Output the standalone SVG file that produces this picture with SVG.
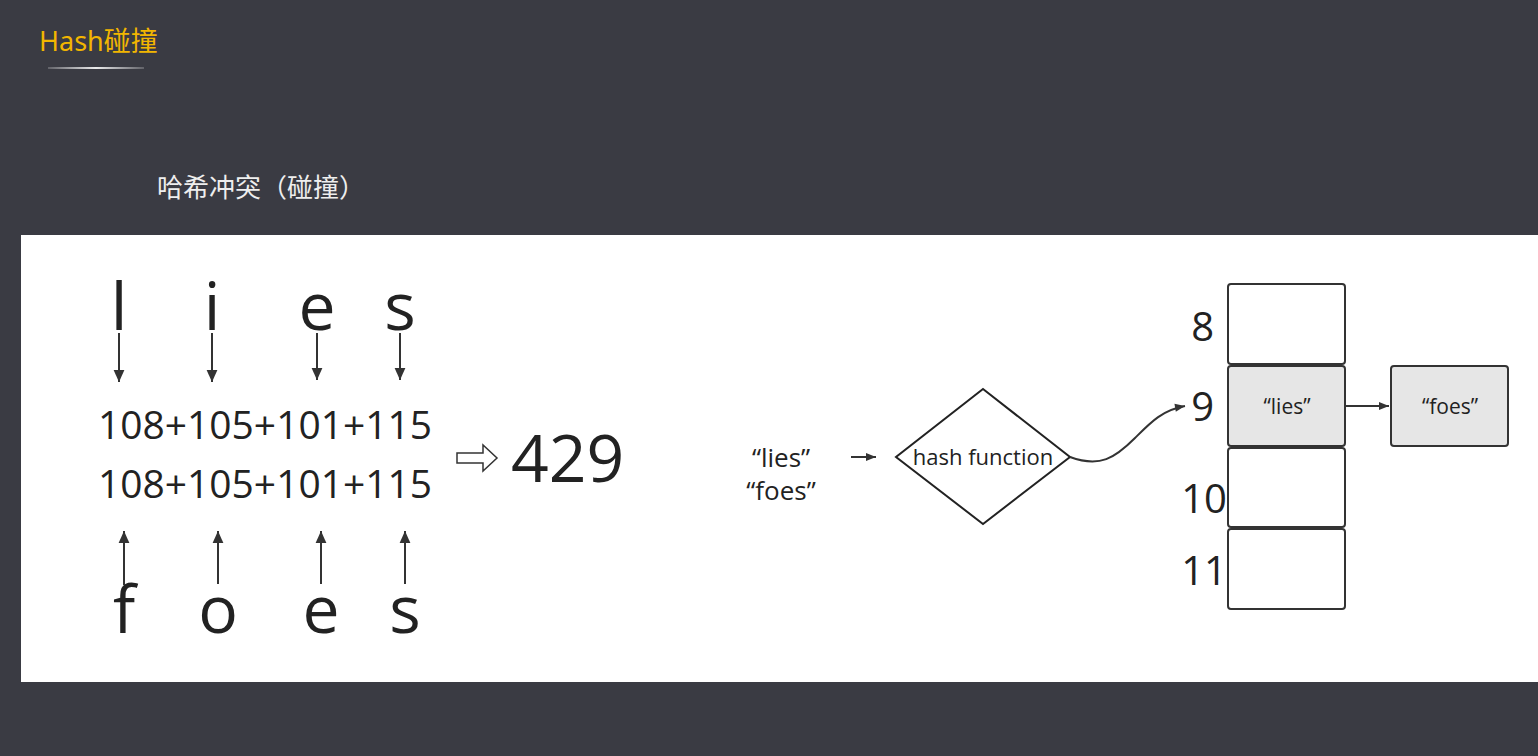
<svg xmlns="http://www.w3.org/2000/svg" width="1538" height="756" viewBox="0 0 1538 756">
<defs>
<linearGradient id="ul" x1="0" x2="1" y1="0" y2="0">
<stop offset="0" stop-color="#ffffff" stop-opacity="0.2"/>
<stop offset="0.5" stop-color="#ffffff" stop-opacity="0.9"/>
<stop offset="1" stop-color="#ffffff" stop-opacity="0.2"/>
</linearGradient>
<marker id="ah" viewBox="0 0 10 10" refX="10" refY="5" markerWidth="14" markerHeight="12" markerUnits="userSpaceOnUse" orient="auto">
<path d="M0,0.5 L10,5 L0,9.5 Z" fill="#333"/>
</marker>
<marker id="ahs" viewBox="0 0 10 10" refX="10" refY="5" markerWidth="13" markerHeight="10" markerUnits="userSpaceOnUse" orient="auto">
<path d="M0,1 L10,5 L0,9 Z" fill="#333"/>
</marker>
<style>
.t{font-family:"Open Sans","Noto Sans","Noto Sans CJK SC",sans-serif;fill:#222}
.big{font-size:66px}
.num{font-size:38px}
.ln{stroke:#333;stroke-width:2;fill:none}
.box{stroke:#333;stroke-width:2;fill:#fff}
.fill{fill:#e6e6e6}
.lbl{font-size:40px;fill:#222}
</style>
</defs>
<rect x="0" y="0" width="1538" height="756" fill="#3a3b43"/>
<rect x="21" y="235" width="1517" height="447" fill="#ffffff"/>
<g id="title">
<text x="39" y="51" font-family="'Noto Sans','Noto Sans CJK SC',sans-serif" font-size="27" fill="#f2b600">Hash碰撞</text>
<rect x="48" y="67" width="96" height="2" fill="url(#ul)"/>
</g>
<g id="subtitle">
<text x="157" y="197" font-family="'Noto Sans CJK SC',sans-serif" font-size="26" fill="#eeeeee">哈希冲突（碰撞）</text>
</g>
<g id="lies-letters">
<text class="t big" x="119" y="330" text-anchor="middle">l</text>
<text class="t big" x="212" y="330" text-anchor="middle">i</text>
<text class="t big" x="317" y="330" text-anchor="middle">e</text>
<text class="t big" x="400" y="330" text-anchor="middle">s</text>
</g>
<g id="sums">
<text class="t num" x="265" y="439" text-anchor="middle" textLength="334" lengthAdjust="spacingAndGlyphs">108+105+101+115</text>
<text class="t num" x="265" y="498" text-anchor="middle" textLength="334" lengthAdjust="spacingAndGlyphs">108+105+101+115</text>
</g>
<g id="foes-letters">
<text class="t big" x="124" y="633" text-anchor="middle">f</text>
<text class="t big" x="218" y="633" text-anchor="middle">o</text>
<text class="t big" x="321" y="633" text-anchor="middle">e</text>
<text class="t big" x="405" y="633" text-anchor="middle">s</text>
</g>
<g id="result">
<polygon points="457,453 483,453 483,445 497,458 483,471 483,463 457,463" fill="#fff" stroke="#333" stroke-width="1.5"/>
<text class="t" x="511" y="482" font-size="66" fill="#000">429</text>
</g>
<g id="inputs">
<text class="t" x="781" y="467" font-size="26" text-anchor="middle" fill="#333">“lies”</text>
<text class="t" x="781" y="500" font-size="26" text-anchor="middle" fill="#333">“foes”</text>
</g>
<g id="hash-function">
<polygon points="983,389 1070,457 983,524 896,457" fill="#fff" stroke="#222" stroke-width="2"/>
<text class="t" x="983" y="465" font-size="22" text-anchor="middle" fill="#333">hash function</text>
</g>
<g id="bucket-8">
<rect class="box" x="1228" y="284" width="117" height="80" rx="3"/>
<text class="t lbl" x="1214" y="341" text-anchor="end">8</text>
</g>
<g id="bucket-9">
<rect class="box fill" x="1228" y="366" width="117" height="80" rx="3"/>
<text class="t lbl" x="1214" y="421" text-anchor="end">9</text>
<text class="t" x="1287" y="414" font-size="21" text-anchor="middle" fill="#555">“lies”</text>
</g>
<g id="bucket-10">
<rect class="box" x="1228" y="448" width="117" height="79" rx="3"/>
<text class="t lbl" x="1227" y="513" text-anchor="end">10</text>
</g>
<g id="bucket-11">
<rect class="box" x="1228" y="529" width="117" height="80" rx="3"/>
<text class="t lbl" x="1227" y="585" text-anchor="end">11</text>
</g>
<g id="node-foes">
<rect class="box fill" x="1391" y="366" width="117" height="80" rx="3"/>
<text class="t" x="1450" y="414" font-size="21" text-anchor="middle" fill="#555">“foes”</text>
</g>
<g id="connectors">
<line class="ln" x1="119" y1="333" x2="119" y2="382" marker-end="url(#ah)"/>
<line class="ln" x1="212" y1="333" x2="212" y2="382" marker-end="url(#ah)"/>
<line class="ln" x1="317" y1="333" x2="317" y2="380" marker-end="url(#ah)"/>
<line class="ln" x1="400" y1="333" x2="400" y2="380" marker-end="url(#ah)"/>
<line class="ln" x1="124" y1="585" x2="124" y2="531" marker-end="url(#ah)"/>
<line class="ln" x1="218" y1="584" x2="218" y2="531" marker-end="url(#ah)"/>
<line class="ln" x1="321" y1="584" x2="321" y2="531" marker-end="url(#ah)"/>
<line class="ln" x1="405" y1="584" x2="405" y2="531" marker-end="url(#ah)"/>
<line class="ln" x1="851" y1="457" x2="876" y2="457" marker-end="url(#ahs)"/>
<path class="ln" d="M1070,457 C1100,468 1115,458 1135,438 C1150,423 1162,410 1185,406" marker-end="url(#ahs)"/>
<line class="ln" x1="1346" y1="406" x2="1389" y2="406" marker-end="url(#ahs)"/>
</g>
</svg>
